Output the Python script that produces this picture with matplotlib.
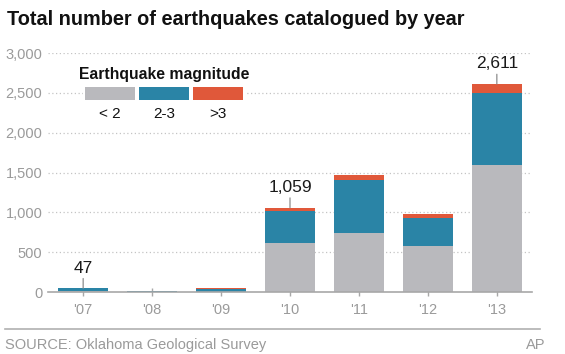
import numpy as np
import matplotlib.pyplot as plt
from matplotlib.patches import Rectangle
from matplotlib.lines import Line2D

# Data
years = ["'07", "'08", "'09", "'10", "'11", "'12", "'13"]
mag_lt2 = [8, 5, 6, 615, 742, 575, 1600]
mag_2_3 = [37, 12, 32, 400, 660, 356, 896]
mag_gt3 = [2, 1, 12, 44, 68, 46, 115]
labelled = {0: "47", 3: "1,059", 6: "2,611"}

series_names = ["< 2", "2-3", ">3"]
colors = ["#b9b9bd", "#2a84a6", "#e0583a"]
yticks = [0, 500, 1000, 1500, 2000, 2500, 3000]

plt.rcParams['font.family'] = ['Liberation Sans', 'DejaVu Sans']

W, H = 565, 354
fig = plt.figure(figsize=(W / 100, H / 100), dpi=100)


def fx(px):
    return px / W


def fy(py):
    return 1 - py / H


# Axes placed in pixel terms of the reference
ax = fig.add_axes([fx(48), fy(292), fx(532) - fx(48), fy(53) - fy(292)])

x = np.arange(len(years))
bottom = np.zeros(len(years))
for vals, col in zip([mag_lt2, mag_2_3, mag_gt3], colors):
    ax.bar(x, vals, width=0.72, bottom=bottom, color=col, zorder=3)
    bottom = bottom + np.array(vals)

ax.set_xlim(-0.51, 6.51)
ax.set_ylim(0, 3000)

# Dotted gridlines
for yv in yticks[1:]:
    ax.axhline(yv, color='#c4c4c4', lw=0.9, ls=(0, (1, 2)), zorder=1)

for s in ['left', 'right', 'top']:
    ax.spines[s].set_visible(False)
ax.spines['bottom'].set_color('#a8a8a8')
ax.spines['bottom'].set_linewidth(1.2)
ax.spines['bottom'].set_zorder(4)

ax.set_yticks(yticks)
ax.set_yticklabels([f"{v:,}" for v in yticks])
ax.tick_params(axis='y', length=0, labelsize=10.5, labelcolor='#9a9a9a', pad=4)
ax.set_xticks(x)
ax.set_xticklabels(years)
ax.tick_params(axis='x', length=6, color='#a8a8a8', width=1,
               labelsize=10.5, labelcolor='#9a9a9a', pad=5, direction='inout')

# Total labels with leader lines
for i, txt in labelled.items():
    ax.annotate(txt, xy=(i, bottom[i]), xytext=(0, 9), textcoords='offset points',
                ha='center', va='bottom', fontsize=12.5, color='#1a1a1a',
                arrowprops=dict(arrowstyle='-', color='#8c8c8c', lw=0.9,
                                shrinkA=0, shrinkB=0), zorder=5)

# Title
fig.text(fx(7), fy(25), "Total number of earthquakes catalogued by year",
         fontsize=14.3, fontweight='bold', color='#111111', ha='left', va='baseline')

# Legend drawn by hand
fig.text(fx(164), fy(79), "Earthquake magnitude", fontsize=11.3,
         fontweight='bold', color='#111111', ha='center', va='baseline')
fig.add_artist(Rectangle((fx(83), fy(102)), fx(164), fy(85) - fy(102),
                         transform=fig.transFigure, facecolor='white',
                         edgecolor='none', zorder=2))
for k, (name, col) in enumerate(zip(series_names, colors)):
    x0 = 85 + k * 54
    fig.add_artist(Rectangle((fx(x0), fy(100)), fx(50), fy(87) - fy(100),
                             transform=fig.transFigure, facecolor=col,
                             edgecolor='none', zorder=3))
    fig.text(fx(x0 + 25), fy(118), name, fontsize=11, color='#111111',
             ha='center', va='baseline')

# Footer
fig.add_artist(Line2D([fx(5), fx(540)], [fy(329), fy(329)], color='#b0b0b0',
                      lw=1.2, transform=fig.transFigure))
fig.text(fx(5), fy(349), "SOURCE: Oklahoma Geological Survey", fontsize=10.5,
         color='#9a9a9a', ha='left', va='baseline')
fig.text(fx(545), fy(349), "AP", fontsize=10.5, color='#9a9a9a',
         ha='right', va='baseline')

fig.savefig('out.png', dpi=100)
